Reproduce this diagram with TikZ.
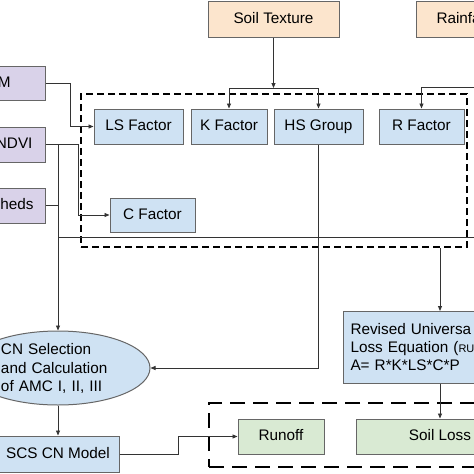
\documentclass[tikz,border=0pt]{standalone}
\usepackage{fontspec}
\setmainfont{Liberation Sans}
\usetikzlibrary{arrows.meta,shapes.geometric,calc}
\definecolor{peach}{HTML}{FCE5CD}
\definecolor{lav}{HTML}{D9D2E9}
\definecolor{lblue}{HTML}{CFE2F3}
\definecolor{lgreen}{HTML}{D9EAD3}
\definecolor{boxline}{HTML}{666666}
\definecolor{lineC}{HTML}{333333}
\begin{document}
\begin{tikzpicture}[x=1pt,y=-1pt,
  txt/.style={font=\fontsize{15.3pt}{18.4pt}\selectfont},
  box/.style={txt, draw=boxline, line width=1pt, rectangle, inner sep=0pt, text height=11pt, text depth=3pt},
  arr/.style={draw=lineC, line width=0.9pt, -{Triangle[length=5pt,width=4pt]}},
  ln/.style={draw=lineC, line width=0.9pt},
  dashA/.style={draw=black, line width=2pt, dash pattern=on 7pt off 4pt, rectangle, inner sep=0pt},
  dashB/.style={draw=black, line width=2.6pt, dash pattern=on 15pt off 8pt, rectangle, inner sep=0pt}
]
\useasboundingbox (0,0) rectangle (474,474);
\clip (0,0) rectangle (474,474);
\fill[white] (0,0) rectangle (474,474);

% top inputs
\node[box, fill=peach, minimum width=131pt, minimum height=36pt] (soil) at (273.5,19) {Soil Texture};
\node[box, fill=peach, anchor=west, minimum height=36pt, inner xsep=20pt] (rain) at (416,19) {Rainfa};

% left inputs
\node[box, fill=lav, anchor=east, minimum height=34pt, inner xsep=35pt] (dem) at (46,83) {M};
\node[box, fill=lav, anchor=east, minimum height=35pt, inner xsep=13pt] (ndvi) at (46,144.5) {NDVI};
\node[box, fill=lav, anchor=east, minimum height=35pt, inner xsep=12pt] (ws) at (46,205.5) {heds};

% factors
\node[box, fill=lblue, minimum width=89pt, minimum height=35pt] (ls) at (138.5,126.5) {LS Factor};
\node[box, fill=lblue, minimum width=76pt, minimum height=35pt] (k) at (229,126.5) {K Factor};
\node[box, fill=lblue, minimum width=89pt, minimum height=35pt] (hs) at (318.5,126.5) {HS Group};
\node[box, fill=lblue, minimum width=85pt, minimum height=35pt] (rf) at (421.5,126.5) {R Factor};
\node[box, fill=lblue, minimum width=85pt, minimum height=34pt] (cf) at (152.5,215) {C Factor};

% dashed groups
\node[dashA, minimum width=386pt, minimum height=153pt] (dbox) at (274,170.5) {};
\node[dashB, minimum width=331pt, minimum height=64pt] (dbox2) at (374.5,435) {};

% CN ellipse
\node[draw=boxline, fill=lblue, ellipse, line width=1pt, minimum width=184pt, minimum height=74pt, inner sep=0pt] (cn) at (58,368) {};
\node[txt, font=\fontsize{15.3pt}{18.5pt}\selectfont, text width=114pt, align=left, inner sep=0pt] (cntxt) at (58,368.5) {CN Selection\\and Calculation\\of AMC I, II, III};

\node[box, fill=lblue, minimum width=122pt, minimum height=36pt] (scs) at (58,454) {SCS CN Model};

% RUSLE
\node[txt, draw=boxline, line width=1pt, fill=lblue, anchor=north west, minimum height=72pt, text width=150pt, align=left, inner xsep=7pt, inner ysep=0pt, font=\fontsize{15.3pt}{18pt}\selectfont] (rusle) at (343,311) {Revised Universa\\Loss Equation ({\fontsize{11pt}{12pt}\selectfont RU}\\A= R*K*LS*C*P};

% outputs
\node[box, fill=lgreen, minimum width=86pt, minimum height=35pt] (runoff) at (281,436.5) {Runoff};
\node[box, fill=lgreen, minimum width=168pt, minimum height=35pt] (sloss) at (440,436.5) {Soil Loss};

% helper coordinates
\coordinate (j1) at (58,144.5);
\coordinate (j2) at (58,237);
\coordinate (offR) at (480,237);
\coordinate (sj) at (273.5,88);
\coordinate (rin) at (480,87);
\coordinate (rx) at (440,0);

% connectors
\draw[arr] (dem.east) -- ++(24,0) |- (ls.west);
\draw[arr] (ndvi.east) -- ++(32,0) |- (cf.west);
\draw[arr] (j1) -- (cn.north);
\draw[ln] (ws.east) -- (ws.east -| j1);
\draw[ln] (j2) -- (offR);
\draw[arr] (soil.south) -- (sj);
\draw[arr] (sj -| k.north) -- (k.north);
\draw[arr] (sj -| k.north) -- (sj -| hs.north) -- (hs.north);
\draw[arr] (rin) -| (rf.north);
\draw[arr] (hs.south) |- (cn.east);
\draw[arr] (rx |- dbox.south) -- (rx |- rusle.north);
\draw[arr] (rusle.south -| sloss.north) -- (sloss.north);
\draw[arr] (cn.south) -- (scs.north);
\draw[arr] (scs.east) -- ++(59,0) |- (runoff.west);
\end{tikzpicture}
\end{document}
